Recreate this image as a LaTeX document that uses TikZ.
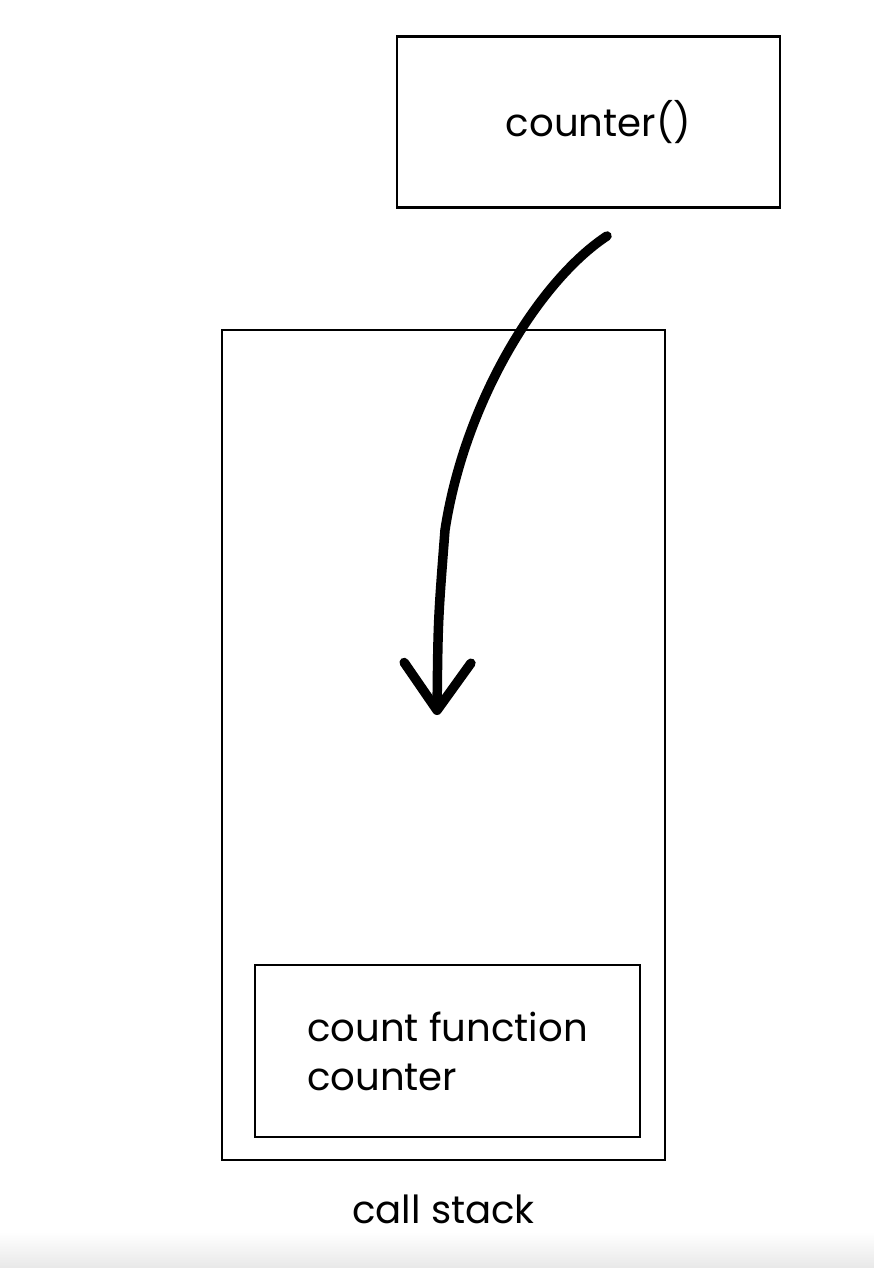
\documentclass[tikz,border=0pt]{standalone}
\usepackage{fontspec}
\setmainfont{Poppins}
\usepackage{tikz}
\usetikzlibrary{arrows.meta, positioning}

\tikzset{
	box/.style={draw, line width=1.2pt, inner sep=0pt},
	txt/.style={font=\fontsize{22}{28}\selectfont},
	calling/.style={line width=5.4pt, line cap=round, line join=round,
		-{Straight Barb[length=27pt, width=38pt, round]}}
}

\begin{document}
\begin{tikzpicture}[x=0.02cm, y=-0.02cm]
		\useasboundingbox (0,0) rectangle (874,1268);
		\shade[top color=white, bottom color=black!9, draw=none] (0,1232) rectangle (874,1268);
		% boxes
		\node[box, txt, minimum width=7.66cm, minimum height=3.42cm] (callbox) at (588.5,122) {\hspace{0.4cm}counter()};
		\node[box, minimum width=8.86cm, minimum height=16.6cm] (stack) at (443.5,745) {};
		\node[box, txt, align=left, minimum width=7.7cm, minimum height=3.44cm] (frame) at (447.5,1051) {count function\\counter};
		\node[txt, below=0.55cm of stack] (label) {call stack};
		% call arrow
		\coordinate (start) at (607,236);
		\coordinate (end) at (437,715);
		\draw[calling] (start) .. controls (540,280) and (465,400) .. (445,530) .. controls (438,620) .. (end);
	\end{tikzpicture}
\end{document}
